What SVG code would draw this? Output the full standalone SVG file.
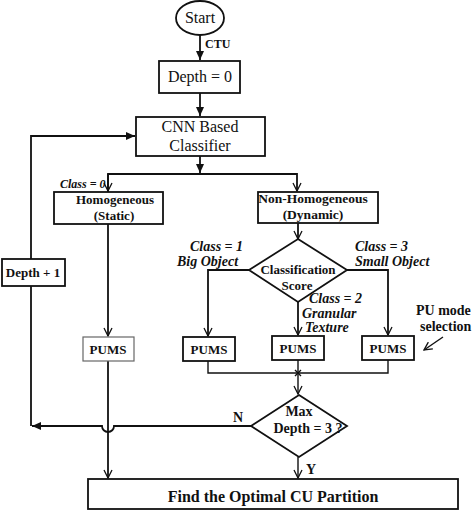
<svg xmlns="http://www.w3.org/2000/svg" width="474" height="511" viewBox="0 0 474 511">
<defs>
<marker id="ah" markerWidth="10" markerHeight="10" refX="9" refY="5" orient="auto" markerUnits="userSpaceOnUse">
<path d="M0,1 L9,5 L0,9 Z" fill="#111"/>
</marker>
<marker id="av" markerWidth="10" markerHeight="10" refX="9" refY="5" orient="auto" markerUnits="userSpaceOnUse">
<path d="M1,1 L9,5 L1,9" fill="none" stroke="#111" stroke-width="1.3"/>
</marker>
<style>
.box{fill:#fff;stroke:#111;stroke-width:1.8}
.thin{fill:#fff;stroke:#666;stroke-width:1.2}
.c{fill:none;stroke:#111;stroke-width:1.8}
.c2{fill:none;stroke:#111;stroke-width:1.4}
text{font-family:"Liberation Serif","Times New Roman",serif;fill:#111}
.r{font-size:16px;text-anchor:middle}
.b{font-size:13px;font-weight:bold;text-anchor:middle}
.bi{font-size:14px;font-weight:bold;font-style:italic}
</style>
</defs>
<g id="connectors">
<path class="c" d="M200,35 V60" marker-end="url(#ah)"/>
<path class="c" d="M200,93 V116" marker-end="url(#ah)"/>
<path class="c" d="M200,156 V173" marker-end="url(#ah)"/>
<path class="c" d="M108,192 V174 H297 V191" marker-end="url(#av)"/>
<path class="c" d="M108,174 V191" marker-end="url(#av)"/>
<path class="c" d="M298,223 V239" marker-end="url(#av)"/>
<path class="c" d="M249,270 H208 V336" marker-end="url(#av)"/>
<path class="c" d="M298,302 V335" marker-end="url(#av)"/>
<path class="c" d="M346,270 H388 V335" marker-end="url(#av)"/>
<path class="c" d="M108,224 V336" marker-end="url(#av)"/>
<path class="c2" d="M208,361 V373 H388 V360"/>
<path class="c2" d="M298,360 V394" marker-end="url(#av)"/>
<path class="c2" d="M295,370 L301,376 M301,370 L295,376"/>
<path class="c" d="M251,426 H114 A6,6 0 0 1 102,426 H32" marker-end="url(#ah)"/>
<path class="c" d="M31,426 V136 H135" marker-end="url(#ah)"/>
<path class="c" d="M108,361 V478" marker-end="url(#av)"/>
<path class="c2" d="M298,457 V478" marker-end="url(#av)"/>
<path class="c2" d="M443,337 L424,350" marker-end="url(#av)"/>
</g>
<g id="start">
<ellipse cx="200" cy="18" rx="24" ry="17" class="box"/>
<text class="r" x="200" y="23">Start</text>
</g>
<text x="205" y="48" style="font-size:12px;font-weight:bold">CTU</text>
<g id="depth0">
<rect x="159" y="61" width="81" height="32" class="box"/>
<text class="r" x="200" y="82">Depth = 0</text>
</g>
<g id="cnn">
<rect x="136" y="117" width="129" height="39" class="box"/>
<text class="r" x="200" y="132">CNN Based</text>
<text class="r" x="200" y="151">Classifier</text>
</g>
<text class="bi" x="60" y="188" style="font-size:12px">Class = 0</text>
<g id="homogeneous">
<rect x="54" y="192" width="109" height="32" class="box"/>
<text class="b" x="115" y="204">Homogeneous</text>
<text class="b" x="114" y="220">(Static)</text>
</g>
<g id="nonhomogeneous">
<rect x="258" y="192" width="120" height="31" class="box"/>
<text class="b" x="313" y="203" style="font-size:13.5px">Non-Homogeneous</text>
<text class="b" x="313" y="219" style="font-size:13.5px">(Dynamic)</text>
</g>
<g id="depthplus1">
<rect x="2" y="259" width="63" height="27" class="box"/>
<text class="b" x="33" y="277">Depth + 1</text>
</g>
<g id="classification">
<polygon points="298,239 347,270 298,302 249,270" class="box"/>
<text class="b" x="298" y="274">Classification</text>
<text class="b" x="297" y="290">Score</text>
</g>
<text class="bi" x="190" y="251">Class = 1</text>
<text class="bi" x="177" y="266">Big Object</text>
<text class="bi" x="355" y="251">Class = 3</text>
<text class="bi" x="355" y="266">Small Object</text>
<text class="bi" x="309" y="303">Class = 2</text>
<text class="bi" x="302" y="318">Granular</text>
<text class="bi" x="305" y="332">Texture</text>
<text x="416" y="315" style="font-size:14px;font-weight:bold">PU mode</text>
<text x="420" y="331" style="font-size:14px;font-weight:bold">selection</text>
<g id="pums1">
<rect x="83" y="337" width="51" height="24" class="thin"/>
<text class="b" x="108" y="354">PUMS</text>
</g>
<g id="pums2">
<rect x="183" y="337" width="52" height="24" class="box"/>
<text class="b" x="209" y="354">PUMS</text>
</g>
<g id="pums3">
<rect x="272" y="336" width="52" height="24" class="box"/>
<text class="b" x="298" y="353">PUMS</text>
</g>
<g id="pums4">
<rect x="362" y="336" width="52" height="24" class="box"/>
<text class="b" x="388" y="353">PUMS</text>
</g>
<g id="maxdepth">
<polygon points="299,395 347,426 299,457 251,426" class="box"/>
<text class="b" x="299" y="416" style="font-size:14px">Max</text>
<text class="b" x="308" y="433" style="font-size:14px">Depth = 3 ?</text>
</g>
<text x="233" y="422" style="font-size:14px;font-weight:bold">N</text>
<text x="306" y="474" style="font-size:14px;font-weight:bold">Y</text>
<g id="final">
<rect x="88" y="479" width="370" height="30" class="box"/>
<text class="b" x="273" y="502" style="font-size:16px">Find the Optimal CU Partition</text>
</g>
</svg>
